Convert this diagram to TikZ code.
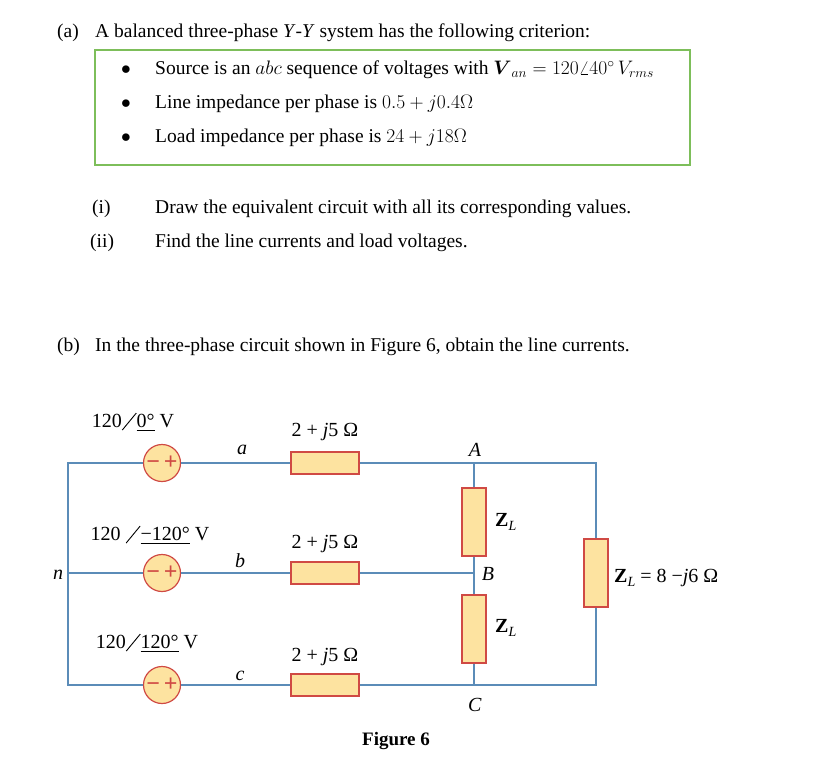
\documentclass[tikz,border=0pt]{standalone}
\usepackage{fix-cm}
\usepackage{amsmath}
\usepackage{fontspec}
\setmainfont{Liberation Serif}
\newcommand{\ang}[1]{\tikz[baseline=0pt,x=1pt,y=1pt]{\draw[line width=0.9pt] (14,14)--(0,-3);}\underline{#1}}
\newcommand{\subL}{\textit{\raisebox{-4pt}{\fontsize{14}{14}\selectfont L}}}
\begin{document}
\begin{tikzpicture}[x=1pt,y=-1pt,
  wire/.style={draw=wirec,line width=1.3pt},
  res/.style={draw=resc,fill=resf,line width=1.2pt,inner sep=0,minimum width=68pt,minimum height=22pt},
  vres/.style={res,minimum width=24pt,minimum height=68pt},
  src/.style={circle,draw=resc,fill=resf,line width=1.2pt,minimum size=37pt,inner sep=0,text=resc,font=\bfseries\fontsize{24}{24}\selectfont},
  lab/.style={font=\fontsize{20}{21}\selectfont,inner sep=1pt},
  txt/.style={font=\fontsize{19.5}{20}\selectfont,anchor=west,inner sep=0}]
\definecolor{wirec}{HTML}{5B8CB8}
\definecolor{resc}{HTML}{D04A44}
\definecolor{resf}{HTML}{FDE3A0}
\definecolor{boxg}{HTML}{7DBE5A}
\useasboundingbox (0,0) rectangle (829,768);
% part (a)
\node[txt] (pa) at (57,33) {(a)};
\node[txt] (ta) at (95,33) {A balanced three-phase \textit{Y}-\textit{Y} system has the following criterion:};
\draw[boxg,line width=1.3pt] (95,50) rectangle (690,165);
\node[txt] (b1) at (121,70) {$\bullet$};
\node[txt] (t1) at (155,70) {Source is an $abc$ sequence of voltages with $\boldsymbol{V}_{an}=120\angle 40^\circ\,V_{rms}$};
\node[txt] (b2) at (121,104) {$\bullet$};
\node[txt] (t2) at (155,104) {Line impedance per phase is $0.5+j0.4\Omega$};
\node[txt] (b3) at (121,138) {$\bullet$};
\node[txt] (t3) at (155,138) {Load impedance per phase is $24+j18\Omega$};
\node[txt] (i1) at (92,209) {(i)};
\node[txt] (i1t) at (155,209) {Draw the equivalent circuit with all its corresponding values.};
\node[txt] (i2) at (90,243) {(ii)};
\node[txt] (i2t) at (155,243) {Find the line currents and load voltages.};
\node[txt] (pb) at (57,347) {(b)};
\node[txt] (tb) at (95,347) {In the three-phase circuit shown in Figure 6, obtain the line currents.};
% circuit
\coordinate (na) at (68,463); \coordinate (nb) at (68,573); \coordinate (nc) at (68,685);
\coordinate (A) at (474,463); \coordinate (B) at (474,573); \coordinate (C) at (474,685);
\coordinate (RA) at (596,463); \coordinate (RC) at (596,685);
\node[src] (sa) at (162,463) {−\,+};
\node[src] (sb) at (162,573) {−\,+};
\node[src] (sc) at (162,685) {−\,+};
\node[res] (ra) at (325,463) {};
\node[res] (rb) at (325,573) {};
\node[res] (rc) at (325,685) {};
\node[vres] (z1) at (474,522) {};
\node[vres] (z2) at (474,629) {};
\node[vres] (z3) at (596,573) {};
\draw[wire] (sa.east) -- (ra.west) (ra.east) -- (A) -- (RA) -- (z3.north);
\draw[wire] (z3.south) -- (RC) -- (C) -- (rc.east) (rc.west) -- (sc.east);
\draw[wire] (sa.west) -- (na) -- (nc) -- (sc.west);
\draw[wire] (nb) -- (sb.west) (sb.east) -- (rb.west) (rb.east) -- (B);
\draw[wire] (A) -- (z1.north) (z1.south) -- (z2.north) (z2.south) -- (C);
\node[lab] (la) at (133,422) {120\ang{0°} V};
\node[lab] (lb) at (150,535) {120 \ang{−120°} V};
\node[lab] (lc) at (147,643) {120\ang{120°} V};
\node[lab] (xa) at (242,450) {\textit{a}};
\node[lab] (xb) at (240,561) {\textit{b}};
\node[lab] (xc) at (240,676) {\textit{c}};
\node[lab] (xn) at (58,575) {\textit{n}};
\node[lab] (ia) at (325,432) {2 + \textit{j}5 Ω};
\node[lab] (ib) at (325,544) {2 + \textit{j}5 Ω};
\node[lab] (ic) at (325,657) {2 + \textit{j}5 Ω};
\node[lab] (lA) at (475,450) {\textit{A}};
\node[lab] (lB) at (488,574) {\textit{B}};
\node[lab] (lC) at (475,705) {\textit{C}};
\node[lab,anchor=west] (l1) at (494,522) {\textbf{Z}\subL};
\node[lab,anchor=west] (l2) at (494,628) {\textbf{Z}\subL};
\node[lab,anchor=west] (l3) at (613,578) {\textbf{Z}\subL{} = 8 −\textit{j}6 Ω};
\node[lab,font=\bfseries\fontsize{19}{19}\selectfont] (fig) at (396,741) {Figure 6};
\end{tikzpicture}
\end{document}
